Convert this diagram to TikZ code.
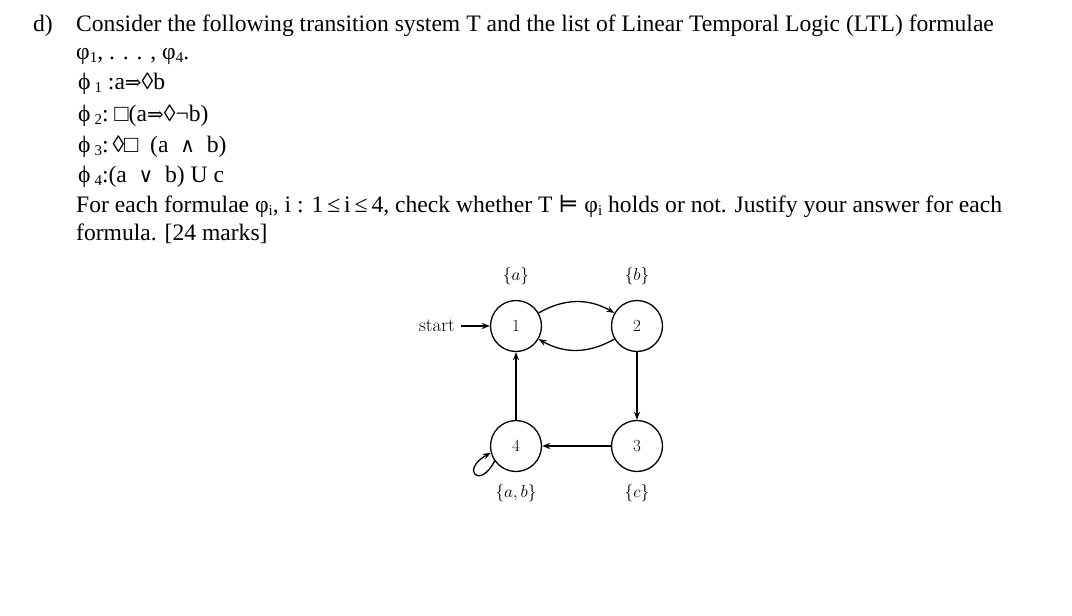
\documentclass[tikz,border=0pt]{standalone}
\usepackage{fontspec}
\setmainfont{Liberation Serif}
\newfontfamily\lmfont{Latin Modern Roman}
\newfontfamily\djv{DejaVu Serif}
\usetikzlibrary{arrows.meta}
\newcommand{\sbs}[1]{\raisebox{-3pt}{\fontsize{15}{15}\selectfont #1}}
\newcommand{\djsym}[1]{{\djv\fontsize{20}{20}\selectfont #1}}
\begin{document}
\begin{tikzpicture}[x=1pt,y=-1pt,
  txt/.style={anchor=base west,inner sep=0pt,font=\fontsize{23.6}{26}\selectfont},
  st/.style={circle,draw,line width=1.3pt,minimum size=51pt,inner sep=0pt,font=\lmfont\fontsize{17}{17}\selectfont},
  lab/.style={font=\lmfont\fontsize{19}{19}\selectfont,inner sep=0pt},
  ed/.style={line width=1.3pt,-{Stealth[length=8pt,width=6pt]}}]
\useasboundingbox (0,0) rectangle (1072,616);
\node[txt] (d) at (33,31) {d)};
\node[txt] (l1) at (76,31) {Consider the following transition system T and the list of Linear Temporal Logic (LTL) formulae};
\node[txt] (l2) at (76,59) {φ\sbs{1}, . . . , φ\sbs{4}.};
\node[txt] (f1) at (78,89) {ϕ\,\sbs{1} :a\djsym{⇒}◊b};
\node[txt] (f2) at (78,121) {ϕ\,\sbs{2}:\ □(a\djsym{⇒}◊¬b)};
\node[txt] (f3) at (78,152) {ϕ\,\sbs{3}:\,◊□\ \ (a\ \ \djsym{∧}\ \ b)};
\node[txt] (f4) at (78,182) {ϕ\,\sbs{4}:(a\ \ \djsym{∨}\ \ b) U c};
\node[txt] (l3) at (76,212) {For each formulae φ\sbs{i}, i : 1\,≤\,i\,≤\,4, check whether T {\djv ⊨} φ\sbs{i} holds or not. Justify your answer for each};
\node[txt] (l4) at (76,240) {formula. [24 marks]};

\node[st] (n1) at (516,326) {1};
\node[st] (n2) at (637,326) {2};
\node[st] (n3) at (637,446) {3};
\node[st] (n4) at (516,446) {4};
\node[lab] (a1) at (516,276) {$\{a\}$};
\node[lab] (a2) at (637,276) {$\{b\}$};
\node[lab] (a4) at (516,493) {$\{a,b\}$};
\node[lab] (a3) at (637,493) {$\{c\}$};
\node[lab,anchor=east] (s) at (455,326) {start};
\draw[ed] (s.east)++(6,0) coordinate (s0) -- (n1);
\draw[ed] (n1) to[bend left=30] (n2);
\draw[ed] (n2) to[bend left=30] (n1);
\draw[ed] (n2) -- (n3);
\draw[ed] (n3) -- (n4);
\draw[ed] (n4) -- (n1);
\draw[ed] (n4.-145) .. controls (480,490) and (460,470) .. (n4.-165);
\end{tikzpicture}
\end{document}
